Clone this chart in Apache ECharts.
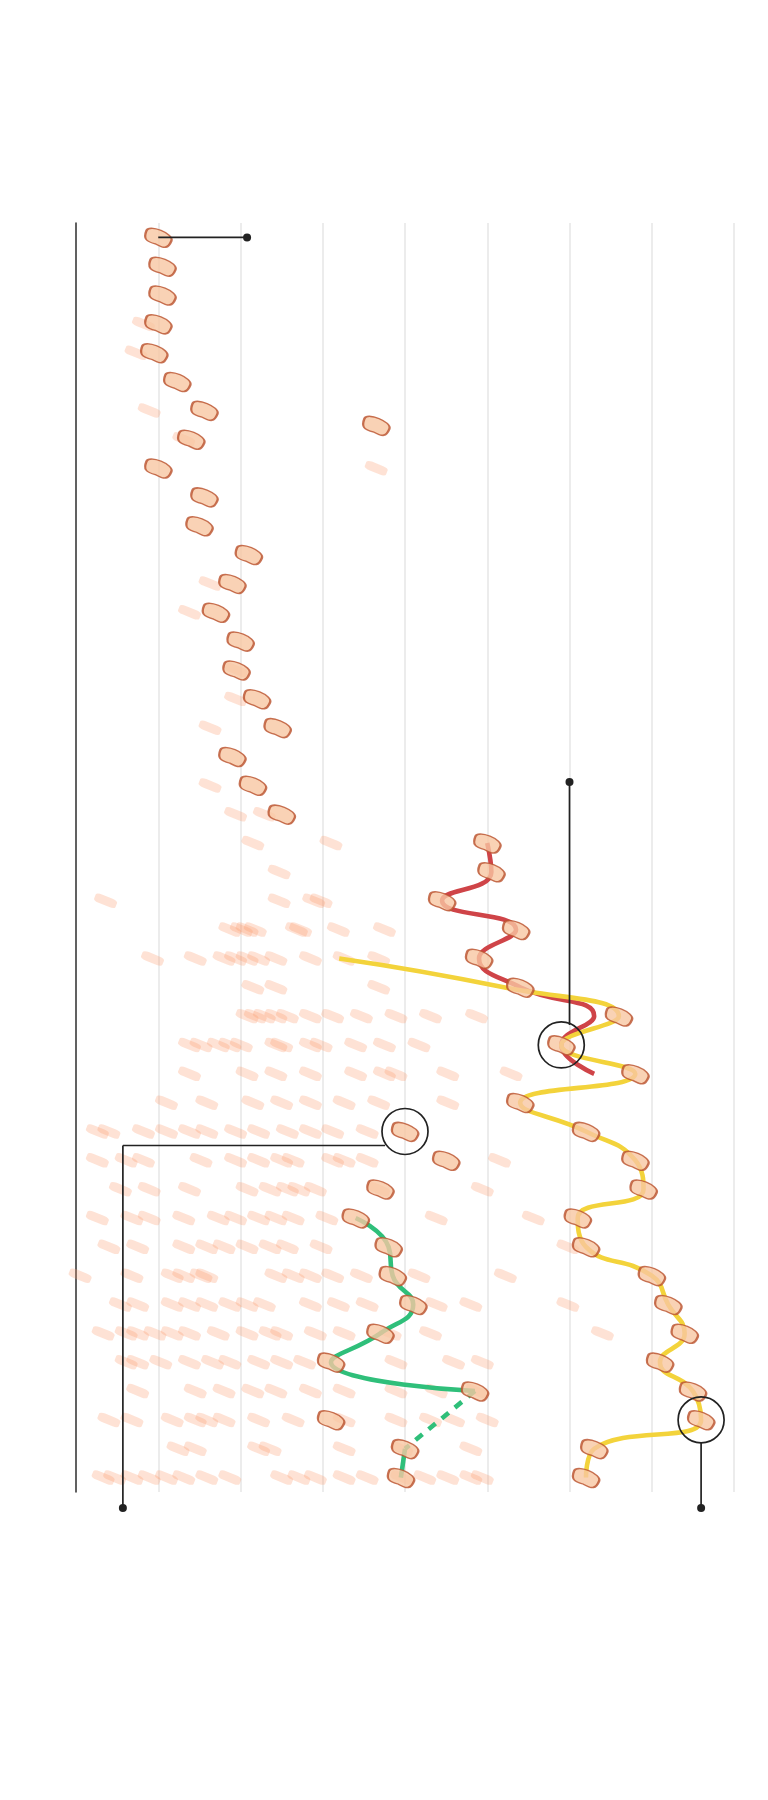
<!DOCTYPE html>
<html><head><meta charset="utf-8">
<script src="https://cdn.jsdelivr.net/npm/echarts@6/dist/echarts.min.js"></script>
<style>html,body{margin:0;background:#fff}#c{width:768px;height:1800px}</style>
</head><body><div id="c"></div>
<script>
const years = []; for (let y = 1980; y <= 2023; y++) years.push(String(y));
const winners = [10,10.5,10.5,10,9.5,12.3,15.6,14,10,15.6,15,21,19,17,20,19.5,22,24.5,19,21.5,25,
  50,50.5,44.5,53.5,49,54,66,59,68,54,62,68,69,61,62,70,72,74,71,75,76,63,62];
const women = {2011:40,2012:45,2013:37,2014:34,2015:38,2016:38.5,2017:41,2018:37,2019:31,2020:48.5,2021:31,2022:40,2023:39.5};
const kobayashi = {2001:50,2002:50.5,2003:44.5,2004:53.5,2005:49,2006:54,2007:63,2008:59,2009:63};
const chestnut = {2005:32,2006:52,2007:66,2008:59,2009:68,2010:54,2011:62,2012:68,2013:69,2014:61,2015:62,2016:70,2017:72,2018:74,2019:71,2020:75,2021:76,2022:63,2023:62};
const sudoSolidA = {2014:34,2015:38,2016:38.5,2017:41,2018:37,2019:31,2020:48.5};
const sudoSolidB = {2022:40,2023:39.5};
const others = {
1983:[8.2],1984:[7.3],1986:[8.9],1987:[13.1],1992:[16.3],1993:[13.8],1995:[19.5],1996:[19.4],1997:[16.3],1999:[16.3],
2000:[19.4,22.9],2001:[21.5,31],2002:[24.7],2003:[3.6,24.7,28.9,29.8],
2004:[18.7,20.1,20.8,21.8,26.8,27.3,31.9,37.5],
2005:[9.3,14.5,18,19.4,20.8,22.2,24.3,28.5,32.6,36.8],
2006:[21.5,24.3,36.8],
2007:[20.8,21.8,22.9,24.3,25.7,28.5,31.2,34.7,38.9,43.1,48.7],
2008:[13.8,15.2,17.3,18.7,20.1,24.3,25,28.5,29.8,34,37.5,41.7],
2009:[13.8,20.8,24.3,28.5,34,37.5,38.9,45.2,52.9],
2010:[11,15.9,21.5,25,28.5,32.6,36.8,45.2],
2011:[2.6,4,8.2,11,13.8,15.9,19.4,22.2,25.7,28.5,31.2,35.4],
2012:[2.6,6.1,8.2,15.2,19.4,22.2,25,26.4,31.2,32.6,35.4,51.5],
2013:[5.4,8.9,13.8,20.8,23.6,25.7,27.1,29.1,36.8,49.4],
2014:[2.6,6.8,8.9,13.1,17.3,19.4,22.2,24.3,26.4,30.5,43.8,55.6],
2015:[4,7.5,13.1,15.9,18,20.8,23.6,25.7,29.8,59.8],
2016:[0.5,6.8,11.7,13.1,15.2,15.9,24.3,26.4,28.5,31.2,34.7,41.7,52.2],
2017:[5.4,7.5,11.7,13.8,15.9,18.7,20.8,22.9,28.5,31.9,35.4,43.8,48,59.8],
2018:[3.3,6.1,7.5,9.6,11.7,13.8,17.3,20.8,23.6,25,29.1,32.6,38.2,43.1,64],
2019:[6.1,7.5,10.3,13.8,16.6,18.7,22.2,25,27.8,38.9,45.9,49.4],
2020:[7.5,14.5,18,21.5,24.3,28.5,32.6,38.9,43.8,48.7],
2021:[4,6.8,11.7,14.5,15.9,18,22.2,26.4,32.6,38.9,43.1,45.9,50],
2022:[12.4,14.5,22.2,23.6,32.6,39.6,48],
2023:[3.3,4.7,6.8,8.9,11,13.1,15.9,18.7,25,27.1,29.1,32.6,35.4,39.6,42.4,45.2,48,49.4]
};
const extraIcon = [36.5, '1986'];
const extraFaint = [36.5, '1988'];

const toPairs = o => Object.keys(o).map(k => [o[k], k]);
const otherPts = []; Object.keys(others).forEach(y => others[y].forEach(v => otherPts.push([v, y])));
const dog = 'path://M2,6 C2,0 30,0 30,6 C30,13 26,14 16,13 C6,14 2,13 2,6 Z';
const icon = (data, extra) => Object.assign({type:'scatter', data, symbol:dog, symbolSize:[27,15], symbolRotate:-22, z:5,
  itemStyle:{color:'#f7c7a2', borderColor:'#b9502c', borderWidth:1.8}}, extra||{});

const chart = echarts.init(document.getElementById('c'));
chart.setOption({
  animation:false,
  grid:{left:76, right:34, top:223, height:1269},
  xAxis:{type:'value', min:0, max:80, interval:10, axisLabel:{show:false}, axisTick:{show:false}, axisLine:{show:false},
    splitLine:{lineStyle:{color:'#e6e6e6', width:1.5}}},
  yAxis:{type:'category', data:years, inverse:true, axisLabel:{show:false}, axisTick:{show:false},
    axisLine:{lineStyle:{color:'#333', width:1.5}}},
  series:[
    {type:'scatter', data:otherPts.concat([extraFaint]), symbol:'roundRect', symbolSize:[23,9], symbolRotate:-22,
      itemStyle:{color:'rgba(250,150,105,0.35)'}, z:2},
    {type:'line', data:toPairs(kobayashi), smooth:0.5, symbol:'none', lineStyle:{color:'#cf4448', width:4.6}, z:3},
    {type:'line', data:toPairs(chestnut), smooth:0.5, symbol:'none', lineStyle:{color:'#f3d33b', width:4.6}, z:3},
    {type:'line', data:toPairs(sudoSolidA), smooth:0.5, symbol:'none', lineStyle:{color:'#2fbf7a', width:4.6}, z:3},
    {type:'line', data:[[48.5,'2020'],[40,'2022']], symbol:'none', lineStyle:{color:'#2fbf7a', width:4.6, type:[9,8]}, z:3},
    {type:'line', data:toPairs(sudoSolidB), smooth:0.5, symbol:'none', lineStyle:{color:'#2fbf7a', width:4.6}, z:3},
    icon(winners.map((v,i)=>[v, years[i]])),
    icon(toPairs(women)),
    icon([extraIcon], {symbolOffset:[0,15]})
  ]
});
const P = (v, y) => chart.convertToPixel({gridIndex:0}, [v, y]);
const seg = (a, b) => ({type:'line', shape:{x1:a[0],y1:a[1],x2:b[0],y2:b[1]}, style:{stroke:'#222', lineWidth:1.7}, z:10});
const dot = a => ({type:'circle', shape:{cx:a[0],cy:a[1],r:4}, style:{fill:'#222'}, z:10});
const ring = a => ({type:'circle', shape:{cx:a[0],cy:a[1],r:23}, style:{fill:'none', stroke:'#222', lineWidth:1.7}, z:10});
const g = [];
const bottomY = 1508;
let a=P(10,'1980'), b=P(20.8,'1980'); g.push(seg(a,b), dot(b));
a=P(60,'2008'); b=[a[0], a[1]-263]; g.push(seg([a[0],a[1]-20],b), dot(b), ring(P(59,'2008')));
const c40=P(40,'2011'); g.push(ring(c40));
const yl=c40[1]+14, xl=P(5.7,'2011')[0]; g.push(seg([c40[0]-20,yl],[xl,yl]), seg([xl,yl],[xl,bottomY]), dot([xl,bottomY]));
const c76=P(76,'2021'); g.push(ring(c76), seg([c76[0],c76[1]+23],[c76[0],bottomY]), dot([c76[0],bottomY]));
chart.setOption({graphic:g});
</script></body></html>
